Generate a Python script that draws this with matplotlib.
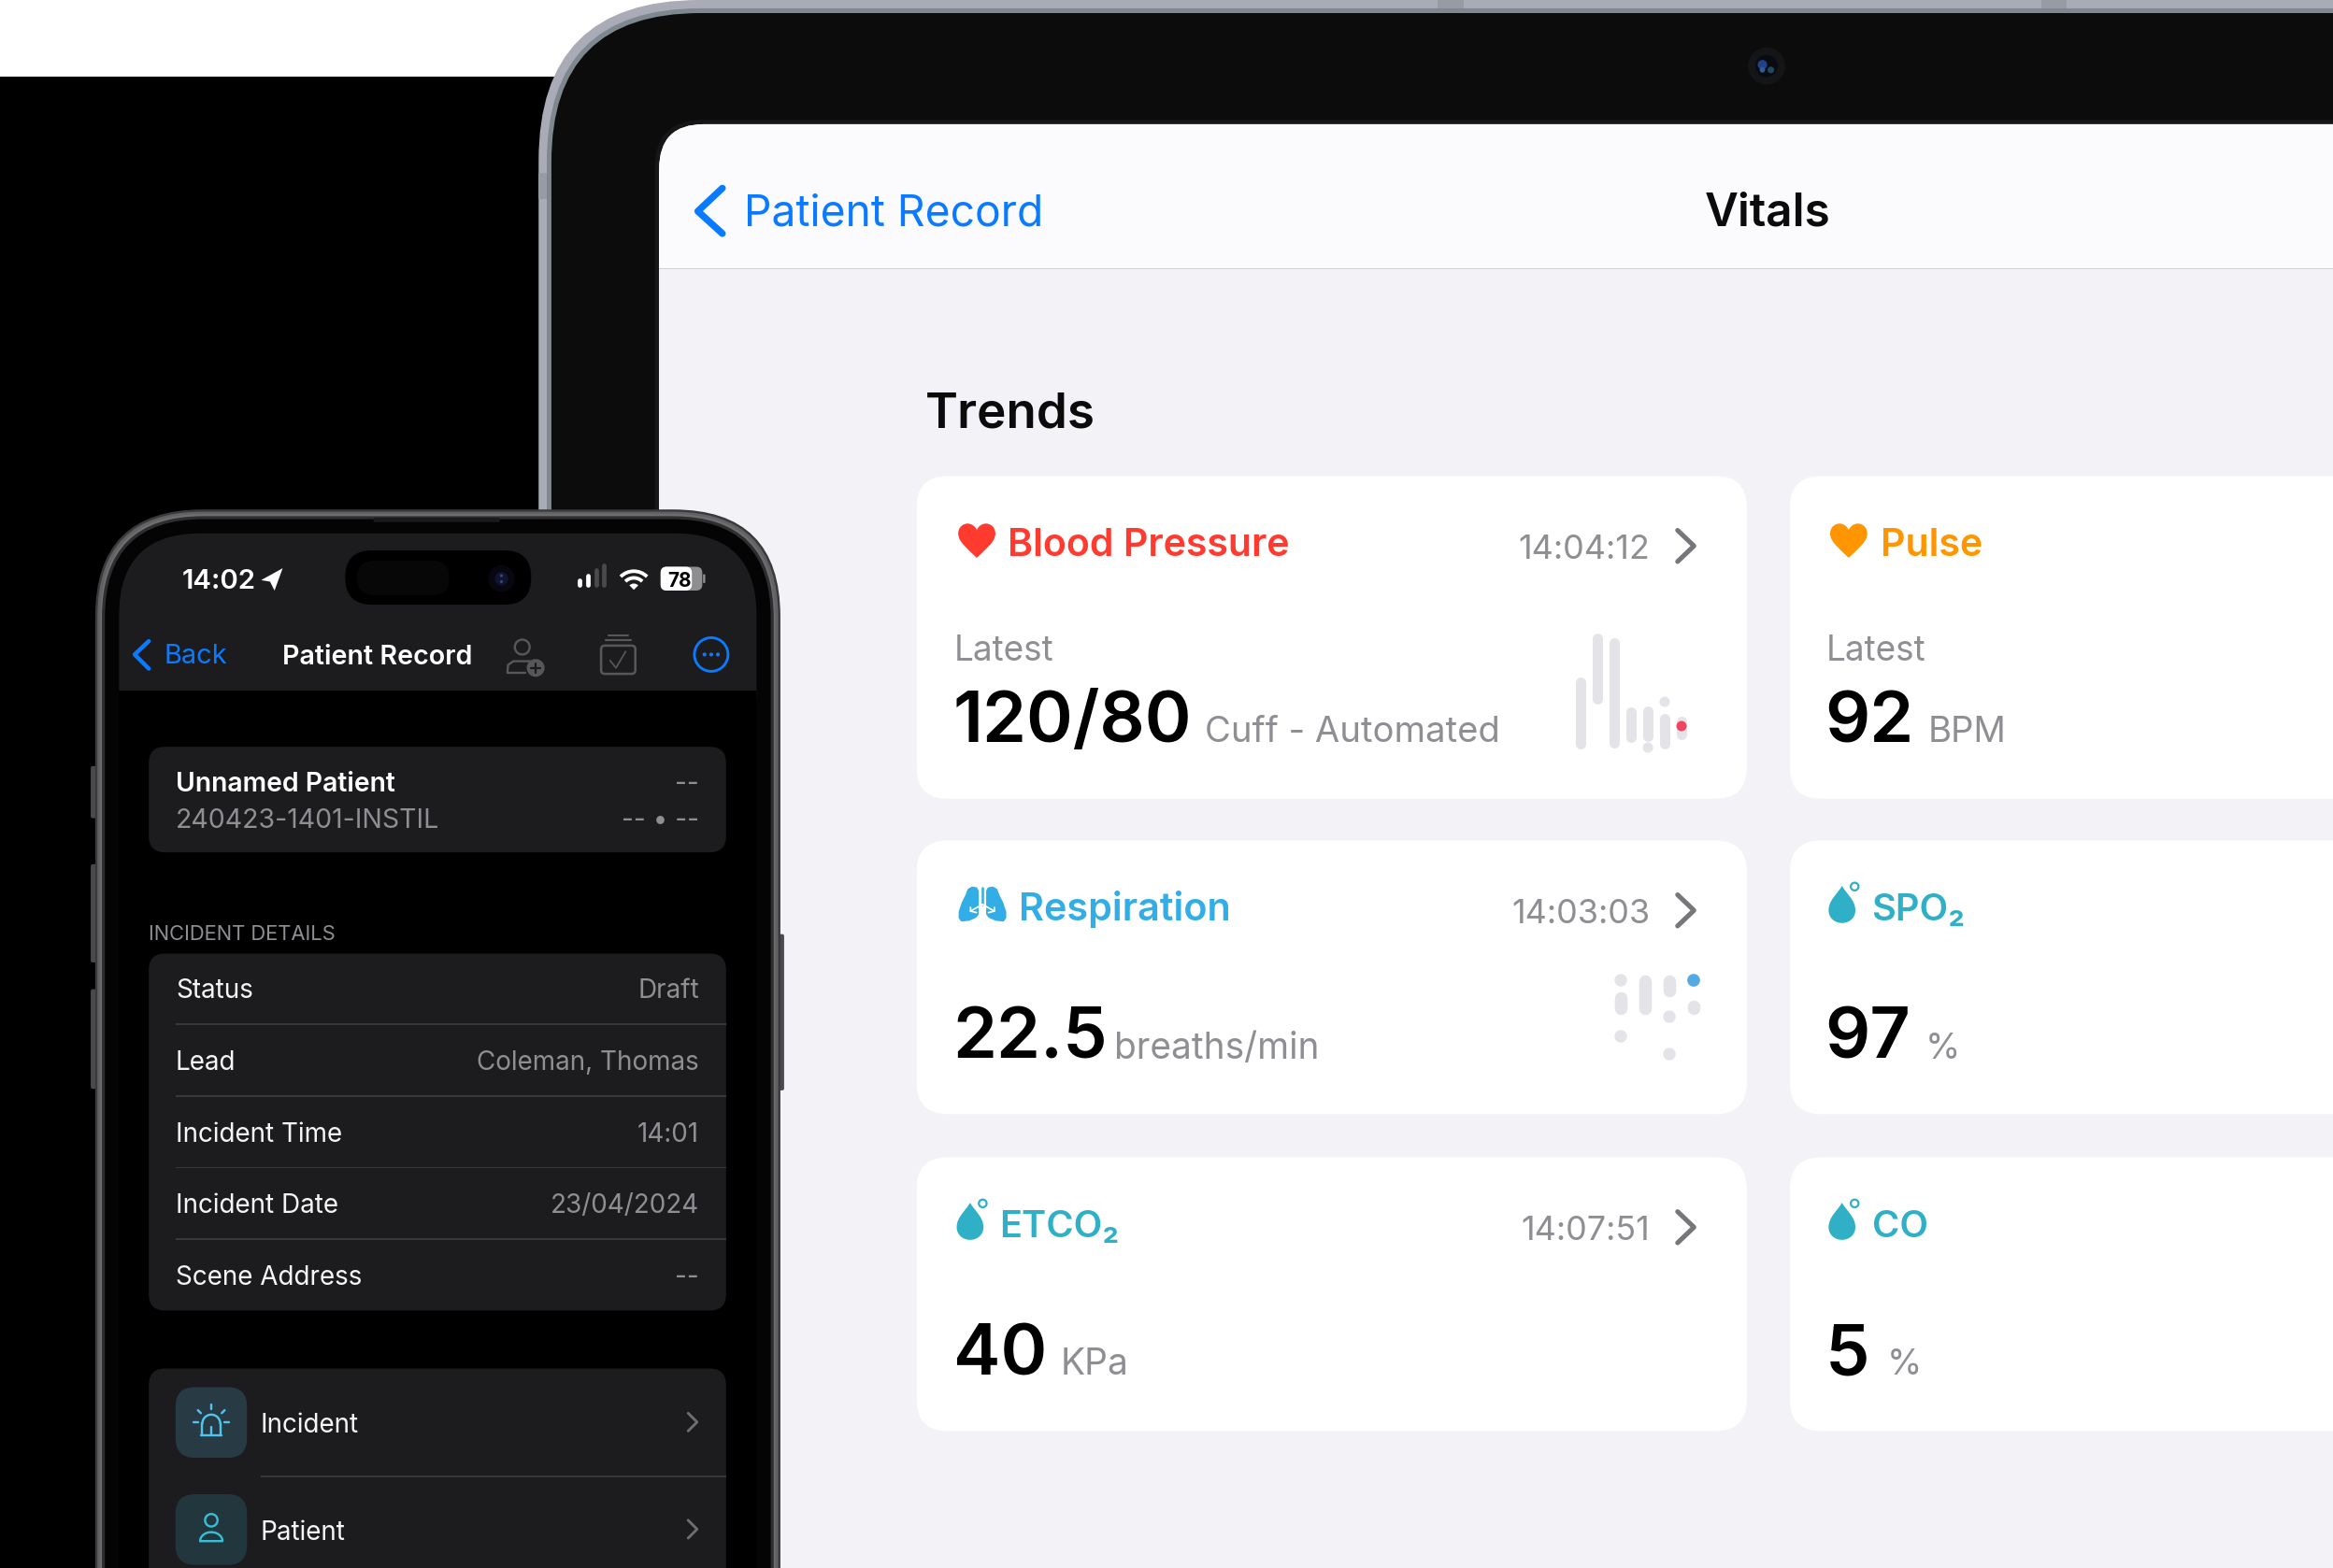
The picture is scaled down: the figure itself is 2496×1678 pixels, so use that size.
import numpy as np
import matplotlib
matplotlib.use("Agg")
import matplotlib.pyplot as plt
from matplotlib.patches import FancyBboxPatch, Circle, PathPatch, Rectangle, Wedge, Arc
from matplotlib.path import Path

plt.rcParams['font.family'] = ['Inter', 'DejaVu Sans']
S = 2496 / 1568

# ---- content -------------------------------------------------------------
detail_labels = ["Status", "Lead", "Incident Time", "Incident Date", "Scene Address"]
detail_values = ["Draft", "Coleman, Thomas", "14:01", "23/04/2024", "--"]
menu_labels = ["Incident", "Patient"]
# sparkline segments, low/high in image pixels
bp_x = [1691, 1709, 1727, 1745, 1763, 1781, 1799]
bp_top = [724, 677, 682, 756, 755, 763, 766]
bp_bottom = [801, 753, 800, 794, 793, 801, 791]
bp_dot_x = [1763, 1781]
bp_dot_y = [800, 751]
resp_x = [1734, 1760, 1786, 1812]
resp_top = [1061, 1043, 1043, 1070]
resp_bottom = [1086, 1086, 1067, 1086]
resp_dot_x = [1734, 1734, 1786, 1786]
resp_dot_y = [1049, 1109, 1088, 1128]

fig = plt.figure(figsize=(24.96, 16.78), dpi=100, facecolor='white')
ax = fig.add_axes([0, 0, 1, 1])
ax.set_xlim(0, 1568)
ax.set_ylim(1054.1, 0)
ax.axis('off')

PT = S * 0.72
z = [0]
def Z():
    z[0] += 1
    return z[0]

def rr(x0, y0, x1, y1, r, fc, ec='none', lw=0):
    p = FancyBboxPatch((x0, y0), x1 - x0, y1 - y0, boxstyle=f"round,pad=0,rounding_size={r}",
                       fc=fc, ec=ec, lw=lw * PT, zorder=Z(), mutation_aspect=1)
    ax.add_patch(p)
    return p

def rect(x0, y0, x1, y1, fc):
    ax.add_patch(Rectangle((x0, y0), x1 - x0, y1 - y0, fc=fc, ec='none', zorder=Z()))

def line(xs, ys, c, lw, cap='round', join='round'):
    ax.plot(xs, ys, color=c, lw=lw * PT, solid_capstyle=cap, solid_joinstyle=join, zorder=Z())

def T(x, y, s, size, c='black', w='normal', ha='left'):
    ax.text(x, y, s, fontsize=size * PT, color=c, fontweight=w, ha=ha, va='baseline', zorder=Z())

def circ(x, y, r, fc, ec='none', lw=0):
    ax.add_patch(Circle((x, y), r, fc=fc, ec=ec, lw=lw * PT, zorder=Z()))

def poly(verts, codes, fc, ec='none', lw=0):
    ax.add_patch(PathPatch(Path(verts, codes), fc=fc, ec=ec, lw=lw * PT, joinstyle='round', zorder=Z()))

M, L, C3, C4, CL = Path.MOVETO, Path.LINETO, Path.CURVE3, Path.CURVE4, Path.CLOSEPOLY

def heart(cx, cy, s, c):
    v = np.array([(0, 12), (-6, 6), (-13, 1), (-13, -5), (-13, -10), (-9, -12), (-6.5, -12),
                  (-3.5, -12), (-1, -10), (0, -7.5), (1, -10), (3.5, -12), (6.5, -12),
                  (9, -12), (13, -10), (13, -5), (13, 1), (6, 6), (0, 12), (0, 12)], float)
    v = v * s + [cx, cy]
    poly(v, [M] + [C4] * 18 + [CL], c)

def drop(cx, cy, c):
    v = np.array([(0, -12.5), (3, -7), (9, -3), (9, 4), (9, 9), (5, 12.5), (0, 12.5),
                  (-5, 12.5), (-9, 9), (-9, 4), (-9, -3), (-3, -7), (0, -12.5), (0, -12.5)], float)
    v = v + [cx, cy]
    poly(v, [M] + [C4] * 12 + [CL], c)
    circ(cx + 8.5, cy - 12, 2.6, 'white', ec=c, lw=1.4)

def lungs(cx, cy, c):
    for sgn in (-1, 1):
        v = np.array([(3, -9), (4, -11), (7, -11.5), (9.5, -10), (11, -6), (13.5, -1), (15.5, 5), (15.5, 9),
                      (14, 11), (9, 10.5), (4.5, 8.5), (3, 6.5), (3, -9)], float)
        v[:, 0] *= sgn
        v = v + [cx, cy]
        poly(v, [M] + [L] * 11 + [CL], c, ec=c, lw=1)
    line([cx, cx], [cy - 11, cy], c, 1.6)
    line([cx, cx - 8, cx - 8], [cy, cy + 4.5, cy + 2], 'white', 1.1)
    line([cx, cx + 8, cx + 8], [cy, cy + 4.5, cy + 2], 'white', 1.1)
    line([cx - 8, cx - 4], [cy + 4.5, cy + 5.5], 'white', 1.1)
    line([cx + 8, cx + 4], [cy + 4.5, cy + 5.5], 'white', 1.1)

def chevron_r(cx, cy, w, h, c, lw):
    line([cx - w / 2, cx + w / 2, cx - w / 2], [cy - h / 2, cy, cy + h / 2], c, lw)

# ---- backdrop ---------------------------------------------------------------
rect(0, 51.5, 420, 1054.1, 'black')

# ---- tablet ---------------------------------------------------------------
rr(362, 0, 1800, 1300, 108, '#a9acb6')
rect(966, 0, 984, 5.6, '#989ba3')
rect(1372, 0, 1389, 5.6, '#989ba3')
rect(362, 116, 367.5, 134, '#989ba3')
rr(367.5, 5.6, 1800, 1300, 103, '#7f888e')
rr(370.6, 8.8, 1800, 1300, 100, '#0c0c0d')
rr(440, 80.5, 1800, 1300, 33, '#161617')
rr(443, 83.5, 1800, 1300, 30, '#f2f2f7')
# header band
ax.add_patch(FancyBboxPatch((443, 83.5), 1400, 200, boxstyle="round,pad=0,rounding_size=30",
                            fc='#fbfbfd', ec='none', zorder=Z()))
rect(443, 115, 1568, 180, '#fbfbfd')
rect(443, 180, 1568, 181, '#d3d3d6')
rect(443, 181, 1568, 360, '#f2f2f7')
circ(1187.3, 44.4, 12.5, '#141517')
circ(1187.3, 44.4, 7.5, '#090b12')
circ(1184.5, 43.5, 3.2, '#23408c')
circ(1190.2, 47, 2.2, '#24485f')
circ(1184.5, 47, 1.8, '#2f5f90')

BLUE = '#0a7aff'
line([485.5, 469, 485.5], [126.5, 142, 157], BLUE, 4.6)
T(500, 152, "Patient Record", 29, BLUE)
T(1188, 152, "Vitals", 31, '#0b0b0c', 'semibold', ha='center')
T(622, 287.5, "Trends", 33.3, '#0b0b0c', 'semibold')

# cards
GRAY = '#8e8e93'
CHEV = '#77777b'
TEAL = '#30b0c7'
RED = '#ff3b30'
ORANGE = '#ff9500'
LBLUE = '#32ade6'
BIG = 47.5
cards = [(320, 537), (565, 749), (778, 962)]
for y0, y1 in cards:
    rr(616, y0, 1174, y1, 21, 'white')
    rr(1203, y0, 1700, y1, 21, 'white')

heart(656.5, 363.5, 0.96, RED)
T(677.5, 374, "Blood Pressure", 25.8, RED, 'semibold')
T(1109, 375.5, "14:04:12", 22.6, GRAY, ha='right')
chevron_r(1133, 367, 11, 21, CHEV, 3.2)
T(641.5, 444, "Latest", 23.2, GRAY)
T(640.5, 499, "120/80", BIG, '#000000', 'semibold')
T(810, 498.5, "Cuff - Automated", 24, GRAY)

heart(1242.5, 363.5, 0.96, ORANGE)
T(1264, 374, "Pulse", 25.8, ORANGE, 'semibold')
T(1227.5, 444, "Latest", 23.2, GRAY)
T(1226.5, 499, "92", BIG, '#000000', 'semibold')
T(1296, 498.5, "BPM", 24, GRAY)

lungs(660.3, 608, LBLUE)
T(685, 619, "Respiration", 26, LBLUE, 'semibold')
T(1109, 620.5, "14:03:03", 22.6, GRAY, ha='right')
chevron_r(1133, 612, 11, 21, CHEV, 3.2)
T(640.5, 711.5, "22.5", BIG, '#000000', 'semibold')
T(749, 712, "breaths/min", 24.4, GRAY)

drop(1238, 608, TEAL)
T(1258, 618.5, "SPO₂", 25, TEAL, 'semibold')
T(1226.5, 711.5, "97", BIG, '#000000', 'semibold')
T(1294, 712, "%", 24, GRAY)

drop(652, 821, TEAL)
T(671.5, 831.5, "ETCO₂", 25, TEAL, 'semibold')
T(1109, 833.5, "14:07:51", 22.6, GRAY, ha='right')
chevron_r(1133, 825, 11, 21, CHEV, 3.2)
T(640.5, 924.5, "40", BIG, '#000000', 'semibold')
T(713, 924, "KPa", 24.4, GRAY)

drop(1238, 821, TEAL)
T(1258, 831.5, "CO", 25, TEAL, 'semibold')
T(1226.5, 924.5, "5", BIG, '#000000', 'semibold')
T(1268, 924, "%", 24, GRAY)

# sparklines
SPK = '#e3e3e8'
w = 11 / S
for x, a, b in zip(bp_x, bp_top, bp_bottom):
    line([x / S, x / S], [(a + 5.5) / S, (b - 5.5) / S], SPK, w)
for x, y in zip(bp_dot_x, bp_dot_y):
    circ(x / S, y / S, 5.5 / S, SPK)
circ(1799 / S, 777 / S, 5.5 / S, '#ef4560')
w = 13.5 / S
for x, a, b in zip(resp_x, resp_top, resp_bottom):
    line([x / S, x / S], [(a + 6.7) / S, (b - 6.7) / S], SPK, w)
for x, y in zip(resp_dot_x, resp_dot_y):
    circ(x / S, y / S, 6.7 / S, SPK)
circ(1812 / S, 1049 / S, 6.8 / S, '#52a9e3')

# ---- phone ---------------------------------------------------------------
for y0, y1 in [(515, 550), (581, 647), (665, 732)]:
    rr(61, y0, 66, y1, 1.2, '#4a4a4a')
rr(522, 628, 527, 733, 1.2, '#4a4a4c')
rr(64, 342.5, 524.5, 1300, 72, '#3a3a3c')
rr(65.5, 344, 523, 1300, 70.5, '#626264')
rr(67.5, 345.5, 521, 1300, 69, '#6e6e70')
rr(68.5, 347, 520, 1300, 68, '#2e2e30')
rr(70.5, 349, 518, 1300, 66, '#040404')
rr(80, 358.5, 508.5, 1300, 55, 'black')
rr(80, 358.5, 508.5, 520, 55, '#1c1c1e')
rect(80, 464, 508.5, 1054.1, 'black')
rr(251, 348, 336, 351, 1.2, '#1a1a1a')
rr(232, 370, 357, 406.5, 18, 'black')
rr(240, 377, 302, 400, 11, '#070707')
circ(337, 389, 9, '#08060e')
circ(337, 389, 4.5, '#10142e')
circ(337, 387, 1, '#33468a')
circ(337, 391, 1, '#33468a')

WHITE = '#ffffff'
T(122, 396, "14:02", 18.5, WHITE, 'semibold')
poly([(175.5, 390), (190, 382), (184.5, 397), (181.5, 391), (175.5, 390)], [M, L, L, L, CL], WHITE)
# signal bars
for x, h, c in [(389.5, 5, WHITE), (395, 8, WHITE), (400.5, 12, '#4a4a4c'), (406, 15, '#4a4a4c')]:
    line([x, x], [395 - h, 393.5], c, 3, cap='round')
# wifi
for r, lw, c in [(12.5, 2.4, WHITE), (8, 2.4, WHITE)]:
    ax.add_patch(Arc((426, 396.5), 2 * r, 2 * r, theta1=-135, theta2=-45, color=c, lw=lw * PT, zorder=Z()))
ax.add_patch(Wedge((426, 396.5), 4.2, -135, -45, fc=WHITE, ec='none', zorder=Z()))
rr(444, 381, 472, 397, 4, '#8e8e90')
rr(444, 381, 465, 397, 4, WHITE)
rr(472.5, 386, 474, 392, 0.7, '#8e8e90')
T(457, 394.5, "78", 13, 'black', 'bold', ha='center')

line([100, 90.5, 100], [431, 440, 449.5], BLUE, 2.8)
T(110.5, 446, "Back", 18.2, BLUE)
T(190, 446.5, "Patient Record", 18, WHITE, 'semibold')
# person-plus (dim)
DIM = '#57575a'
circ(351, 435, 5, 'none', ec=DIM, lw=1.5)
line([341, 341.5, 345, 356, 359], [452, 447, 444.5, 444.5, 446], DIM, 1.5)
line([341, 353], [452, 452], DIM, 1.5)
circ(360, 449, 6, DIM)
line([357, 363], [449, 449], '#1c1c1e', 1.4)
line([360, 360], [446, 452], '#1c1c1e', 1.4)
# check stack (dim)
rr(404, 434, 427, 453, 2.5, 'none', ec=DIM, lw=1.6)
line([407, 424], [430.5, 430.5], DIM, 1.4)
line([409, 422], [427, 427], DIM, 1.3)
line([410, 414, 420.5], [444, 449, 438], DIM, 1.1)
circ(478, 440, 11.3, 'none', ec=BLUE, lw=1.8)
for dx in (-4.5, 0, 4.5):
    circ(478 + dx, 440, 1.3, BLUE)

CARD = '#1c1c1e'
SEP = '#38383a'
PG = '#8e8e93'
PWH = '#f5f5f7'
ROW = 17.5
rr(100, 502, 488, 573, 11, CARD)
T(118, 532, "Unnamed Patient", 17.8, '#ffffff', 'semibold')
T(470, 532, "--", ROW, PG, ha='right')
T(118, 556.5, "240423-1401-INSTIL", 17.9, PG)
T(470, 556.5, "-- • --", ROW, PG, ha='right')
T(100, 632, "INCIDENT DETAILS", 13.8, PG)
rr(100, 641, 488, 881, 11, CARD)
for i, (lab, val) in enumerate(zip(detail_labels, detail_values)):
    yb = 671 + 48.2 * i
    T(118, yb, lab, ROW, PWH)
    T(470, yb, val, ROW, PG, ha='right')
    if i < 4:
        rect(118, 688 + 48.2 * i, 488, 689 + 48.2 * i, SEP)

rr(100, 920, 488, 1200, 11, CARD)
rr(118, 932.5, 166, 980, 13, '#283b44')
rr(118, 1004.5, 166, 1052, 13, '#22373d')
rect(175, 992, 488, 993, SEP)
for lab, yb, yc in zip(menu_labels, [963, 1035], [956, 1028]):
    T(175, yb, lab, ROW, PWH)
    chevron_r(465.5, yc, 6, 12, '#6e6e72', 1.8)
# alarm icon
IC = '#4ec5f1'
cx, cy = 142, 956
line([cx - 7, cx + 7], [cy + 9, cy + 9], IC, 1.5)
theta = np.linspace(np.pi, 2 * np.pi, 30)
line(list(cx + 6 * np.cos(theta)), list(cy + 1 + 6 * np.sin(theta)), IC, 1.5)
line([cx - 6, cx - 6], [cy + 1, cy + 9], IC, 1.5)
line([cx + 6, cx + 6], [cy + 1, cy + 9], IC, 1.5)
line([cx, cx], [cy + 3, cy + 9], IC, 1.5)
line([cx, cx], [cy - 12, cy - 9], IC, 1.5)
line([cx - 9, cx - 7], [cy - 8, cy - 6], IC, 1.5)
line([cx + 9, cx + 7], [cy - 8, cy - 6], IC, 1.5)
line([cx - 12, cx - 9], [cy + 0, cy + 0], IC, 1.5)
line([cx + 12, cx + 9], [cy + 0, cy + 0], IC, 1.5)
# person icon
IC2 = '#36bfd6'
cx, cy = 142, 1028
circ(cx, cy - 6, 4.2, 'none', ec=IC2, lw=1.5)
theta = np.linspace(np.pi, 2 * np.pi, 30)
xs = list(cx + 7.5 * np.cos(theta)) + [cx - 7.5]
ys = list(cy + 8 + 6 * np.sin(theta)) + [cy + 8]
line(xs, ys, IC2, 1.5)

fig.savefig("out.png", dpi=100, facecolor='white')
